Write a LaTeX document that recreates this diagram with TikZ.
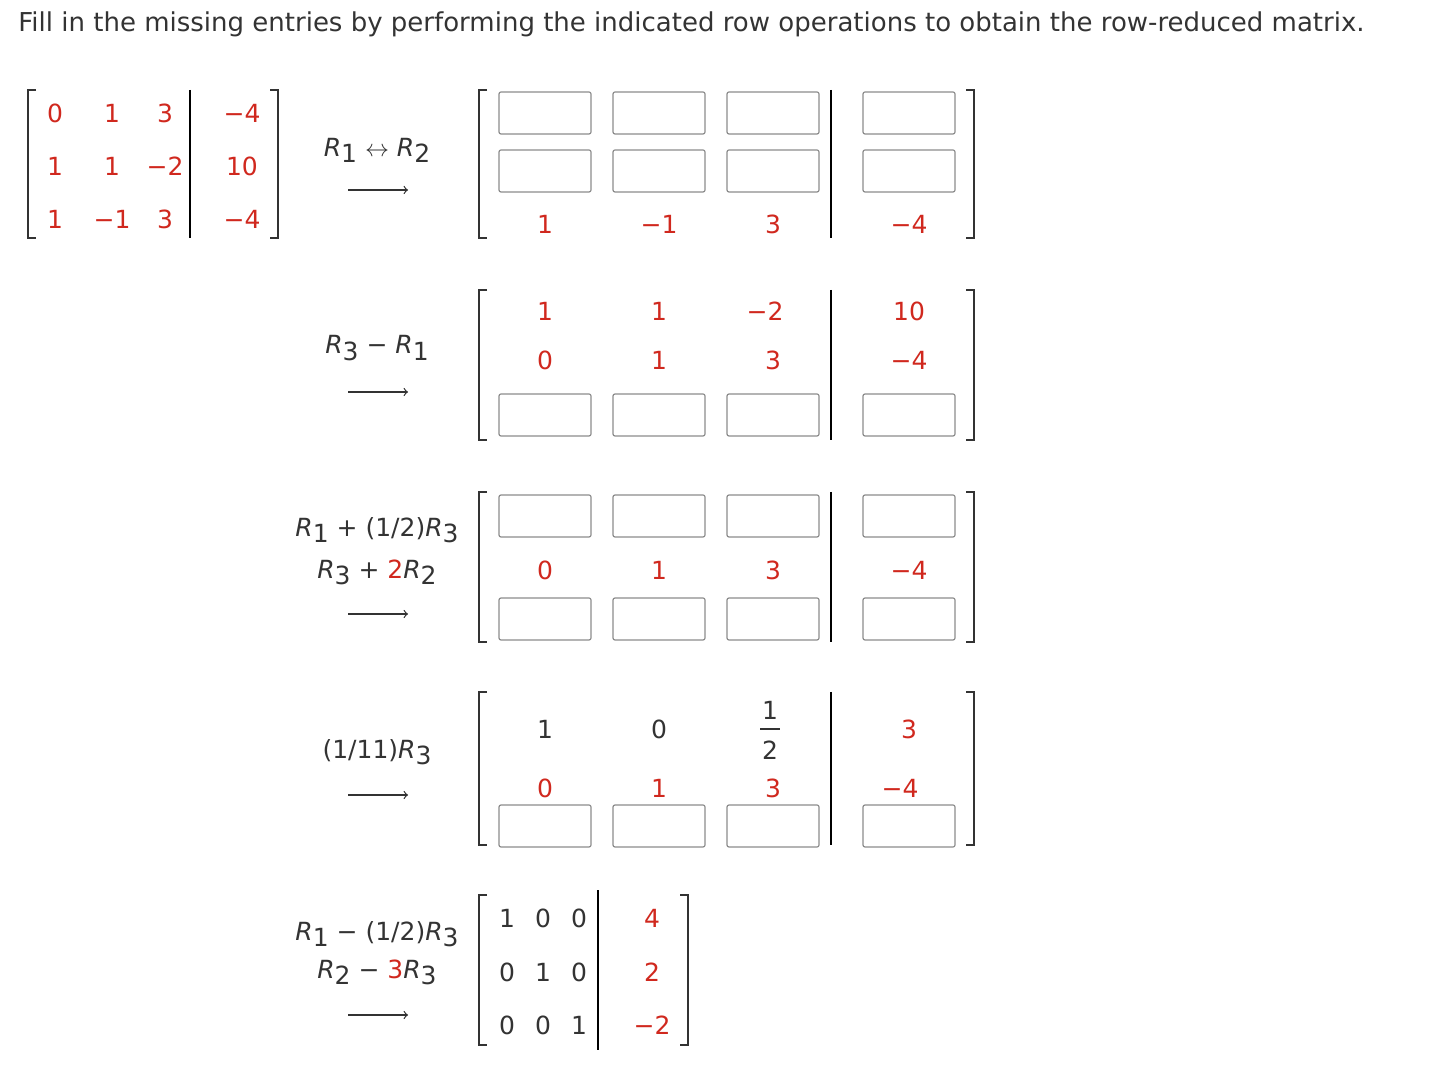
\documentclass[tikz,border=0pt]{standalone}
\usepackage{fontspec}
\setmainfont{DejaVu Sans}
\definecolor{rd}{HTML}{D0281E}
\definecolor{tx}{HTML}{333333}
\definecolor{bx}{HTML}{8C8C8C}
\newcommand{\Rr}[1]{\textit{R}\raisebox{-0.45ex}{#1}}
\newcommand{\mn}{−}
\tikzset{
 ent/.style={font=\fontsize{12.5}{14}\selectfont,text=rd,inner sep=0pt},
 blk/.style={font=\fontsize{12.5}{14}\selectfont,text=tx,inner sep=0pt},
 lab/.style={font=\fontsize{12.5}{15}\selectfont,text=tx,inner sep=0pt,align=center},
 inbox/.style={draw=bx,line width=0.6pt,rounded corners=1pt,minimum width=46pt,minimum height=21pt,inner sep=0pt},
 brk/.style={draw=tx,line width=0.6pt},
 bar/.style={draw=black,line width=0.7pt},
 arr/.style={draw=tx,line width=0.6pt,-to}
}
\newcommand{\bracks}[4]{% left x, right x, top y, bottom y
 \draw[brk] (#1+8,#3)--(#1,#3)--(#1,#4)--(#1+8,#4);
 \draw[brk] (#2-8,#3)--(#2,#3)--(#2,#4)--(#2-8,#4);}
\begin{document}
\begin{tikzpicture}[x=0.5pt,y=-0.5pt]
\useasboundingbox (0,0) rectangle (1446,1068);
\node[anchor=west,font=\fontsize{13}{15}\selectfont,text=tx,inner sep=0pt] (title) at (18,24) {Fill in the missing entries by performing the indicated row operations to obtain the row-reduced matrix.};
% matrix 1
\bracks{28}{278}{90}{238}
\draw[bar] (190,90)--(190,238);
\foreach \a/\b/\c/\d [count=\i] in {0/1/3/\mn4,1/1/\mn2/10,1/\mn1/3/\mn4}{
 \pgfmathsetmacro\yy{{113,166,219}[\i-1]}
 \node[ent] (m1a\i) at (55,\yy) {\a};
 \node[ent] (m1b\i) at (112,\yy) {\b};
 \node[ent] (m1c\i) at (165,\yy) {\c};
 \node[ent] (m1d\i) at (242,\yy) {\d};}
\node[lab] (l1) at (377,150) {\Rr{1} $\leftrightarrow$ \Rr{2}};
\coordinate (a1s) at (348,190); \coordinate (a1e) at (408,190);
\draw[arr] (a1s)--(a1e);
% big matrices frames
\foreach \t/\b [count=\k] in {90/238,290/440,492/642,692/845}{
 \bracks{479}{974}{\t}{\b}
 \draw[bar] (831,\t)--(831,\b);}
% matrix 2
\foreach \x [count=\j] in {545,659,773,909}{
 \node[inbox] (b2a\j) at (\x,113) {};
 \node[inbox] (b2b\j) at (\x,171) {};}
\node[ent] (m2a) at (545,224) {1};
\node[ent] (m2b) at (659,224) {\mn1};
\node[ent] (m2c) at (773,224) {3};
\node[ent] (m2d) at (909,224) {\mn4};
% matrix 3
\node[ent] (m3a1) at (545,311) {1}; \node[ent] (m3b1) at (659,311) {1};
\node[ent] (m3c1) at (765,311) {\mn2}; \node[ent] (m3d1) at (909,311) {10};
\node[ent] (m3a2) at (545,360) {0}; \node[ent] (m3b2) at (659,360) {1};
\node[ent] (m3c2) at (773,360) {3}; \node[ent] (m3d2) at (909,360) {\mn4};
\foreach \x [count=\j] in {545,659,773,909}{\node[inbox] (b3\j) at (\x,415) {};}
\node[lab] (l3) at (377,348) {\Rr{3} \mn{} \Rr{1}};
\coordinate (a3s) at (348,392); \coordinate (a3e) at (408,392);
\draw[arr] (a3s)--(a3e);
% matrix 4
\foreach \x [count=\j] in {545,659,773,909}{
 \node[inbox] (b4a\j) at (\x,516) {};
 \node[inbox] (b4c\j) at (\x,619) {};}
\node[ent] (m4a) at (545,570) {0}; \node[ent] (m4b) at (659,570) {1};
\node[ent] (m4c) at (773,570) {3}; \node[ent] (m4d) at (909,570) {\mn4};
\node[lab] (l4a) at (377,530) {\Rr{1} + (1/2)\Rr{3}};
\node[lab] (l4b) at (377,572) {\Rr{3} + \textcolor{rd}{2}\Rr{2}};
\coordinate (a4s) at (348,614); \coordinate (a4e) at (408,614);
\draw[arr] (a4s)--(a4e);
% matrix 5
\node[blk] (m5a) at (545,729) {1}; \node[blk] (m5b) at (659,729) {0};
\node[blk] (m5n) at (770,710) {1}; \node[blk] (m5m) at (770,750) {2};
\draw[tx,line width=0.6pt] (760,729)--(780,729);
\node[ent] (m5d) at (909,729) {3};
\node[ent] (m5a2) at (545,788) {0}; \node[ent] (m5b2) at (659,788) {1};
\node[ent] (m5c2) at (773,788) {3}; \node[ent] (m5d2) at (900,788) {\mn4};
\foreach \x [count=\j] in {545,659,773,909}{\node[inbox] (b5\j) at (\x,826) {};}
\node[lab] (l5) at (377,752) {(1/11)\Rr{3}};
\coordinate (a5s) at (348,795); \coordinate (a5e) at (408,795);
\draw[arr] (a5s)--(a5e);
% matrix 6
\bracks{479}{688}{895}{1045}
\draw[bar] (598,890)--(598,1050);
\foreach \a/\b/\c/\d [count=\i] in {1/0/0/4,0/1/0/2,0/0/1/\mn2}{
 \pgfmathsetmacro\yy{{918,972,1025}[\i-1]}
 \node[blk] (m6a\i) at (507,\yy) {\a};
 \node[blk] (m6b\i) at (543,\yy) {\b};
 \node[blk] (m6c\i) at (579,\yy) {\c};
 \node[ent] (m6d\i) at (652,\yy) {\d};}
\node[lab] (l6a) at (377,934) {\Rr{1} \mn{} (1/2)\Rr{3}};
\node[lab] (l6b) at (377,972) {\Rr{2} \mn{} \textcolor{rd}{3}\Rr{3}};
\coordinate (a6s) at (348,1015); \coordinate (a6e) at (408,1015);
\draw[arr] (a6s)--(a6e);
\end{tikzpicture}
\end{document}
